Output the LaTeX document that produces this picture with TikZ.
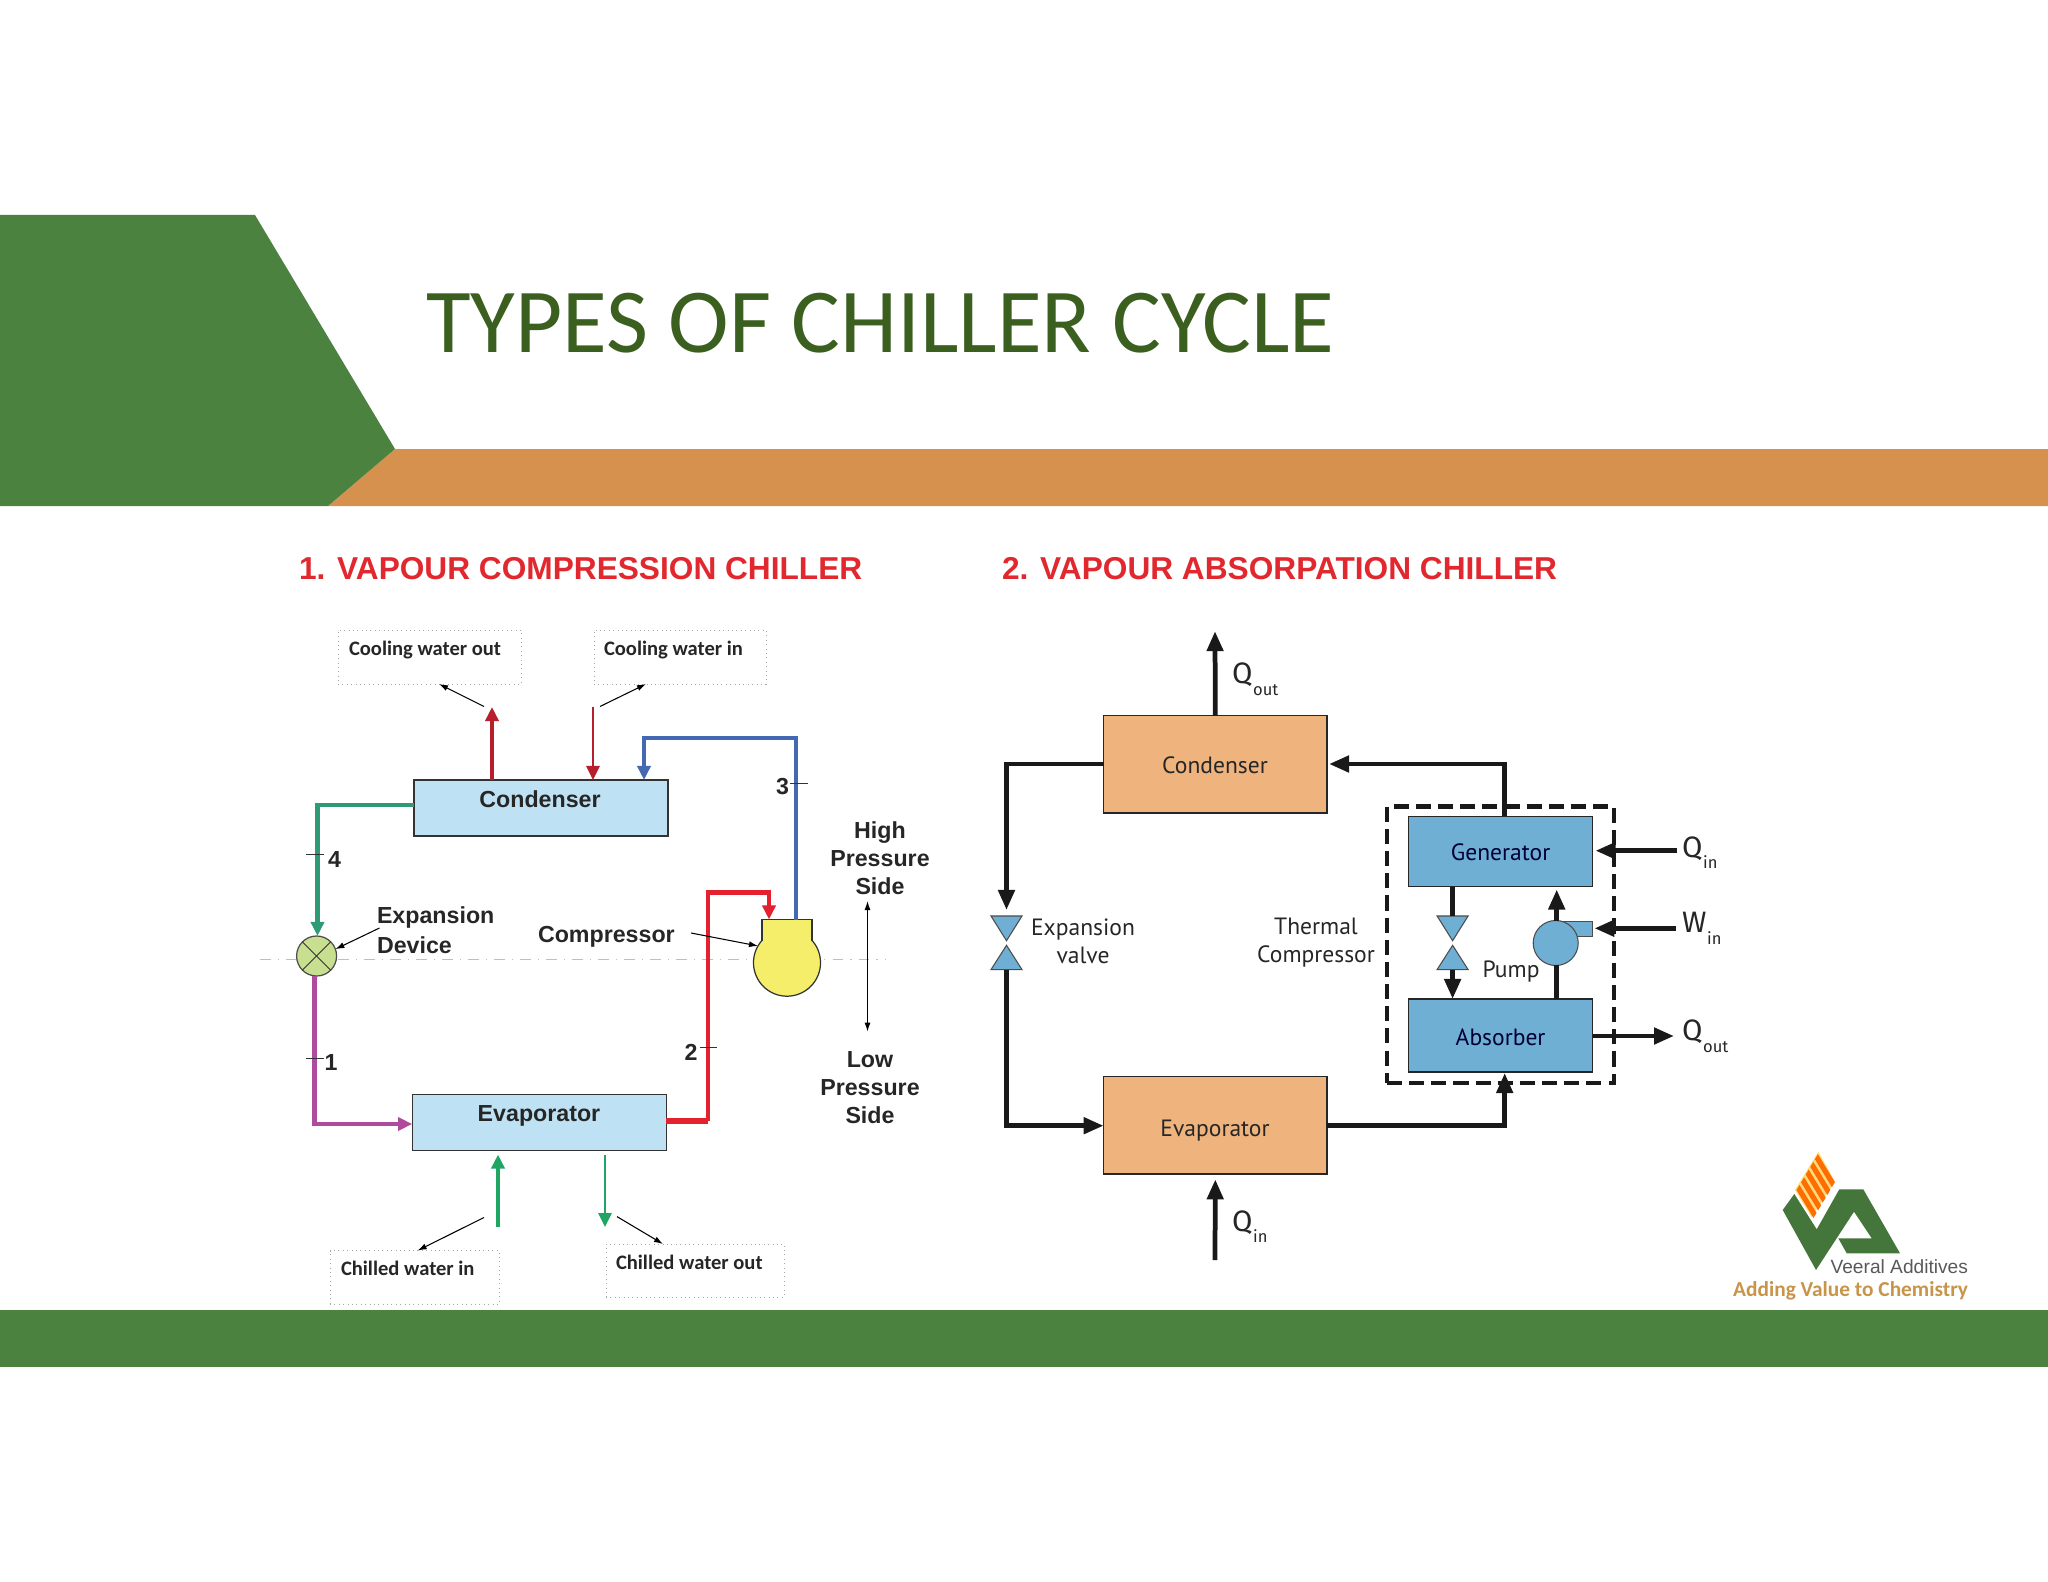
\documentclass[tikz,border=0pt]{standalone}
\usepackage{fontspec}
\setmainfont{Liberation Sans}
\newfontfamily\calfont{Carlito}
\newfontfamily\ptfont{PT Sans}
\newfontfamily\qfont{Fira Sans}
\usepackage{xcolor}
\usetikzlibrary{arrows.meta,positioning,calc}

\definecolor{slidegreen}{HTML}{4C8240}
\definecolor{slideorange}{HTML}{D6914F}
\definecolor{titlegreen}{HTML}{3A5F1E}
\definecolor{headred}{HTML}{E0282E}
\definecolor{paleblue}{HTML}{BEE2F4}
\definecolor{boxorange}{HTML}{EFB47E}
\definecolor{boxblue}{HTML}{6FAFD4}
\definecolor{pipeblue}{HTML}{4568B2}
\definecolor{pipeteal}{HTML}{2E9A78}
\definecolor{pipepurple}{HTML}{B04A9C}
\definecolor{pipered}{HTML}{E3212F}
\definecolor{waterred}{HTML}{B81F2D}
\definecolor{watergreen}{HTML}{1FA564}
\definecolor{devicegreen}{HTML}{C7DF8E}
\definecolor{compyellow}{HTML}{F4EE6A}
\definecolor{tagorange}{HTML}{C8944A}

\tikzset{
  plain/.style={inner sep=0pt, outer sep=0pt},
  boldtext/.style={plain, align=center, text=black!85, font=\fontsize{6.6}{7.9}\selectfont\bfseries},
  notetext/.style={plain, anchor=west, text=black!85, font=\fontsize{5.85}{7}\selectfont\calfont\bfseries},
  thintext/.style={plain, align=center, text=black!85, font=\fontsize{6.7}{8}\selectfont\ptfont},
  qtext/.style={plain, anchor=west, text=black!85, font=\fontsize{8.4}{10}\selectfont\qfont},
  heading/.style={plain, anchor=west, text=headred, font=\fontsize{9}{10.8}\selectfont\bfseries},
  notebox/.style={plain, draw=gray!70, densely dotted, line width=0.25pt, minimum width=#1},
  paleboxstyle/.style={plain, draw=black!80, line width=0.35pt, fill=paleblue, minimum width=2.54cm, minimum height=0.56cm},
  orangebox/.style={plain, draw=black!85, line width=0.4pt, fill=boxorange, minimum width=2.233cm, minimum height=0.973cm},
  bluebox/.style={plain, draw=black!85, line width=0.4pt, fill=boxblue, minimum width=1.837cm},
  thinarrow/.style={-{Latex[length=0.09cm,width=0.06cm]}, line width=0.3pt, black},
  pipe/.style={-{Triangle[length=0.14cm,width=0.13cm]}, line width=1.3pt},
  loopline/.style={-{Triangle[length=0.2cm,width=0.16cm]}, line width=1.35pt, black!90},
  valvepart/.style={draw=black!70, line width=0.3pt, fill=boxblue}
}
\newcommand{\qsub}[2]{#1\kern0.2pt\raisebox{-0.75ex}{\fontsize{4.7}{5}\selectfont #2}}

\begin{document}
\begin{tikzpicture}[x=0.01cm, y=-0.01cm]
  \useasboundingbox (0,0) rectangle (2048,1582);

  % Slide background
  \fill[slideorange] (395,449) -- (2048,449) -- (2048,506) -- (328,506) -- cycle;
  \fill[slidegreen] (0,215) -- (255,215) -- (395,449) -- (328,506) -- (0,506) -- cycle;
  \fill[slidegreen] (0,1310) rectangle (2048,1367);
  \node[plain, anchor=west, text=titlegreen, font=\fontsize{26}{32}\selectfont\calfont] (title) at (426,323) {TYPES OF CHILLER CYCLE};

  % Headings
  \node[heading] (headleft) at (299,569) {1. VAPOUR COMPRESSION CHILLER};
  \node[heading] (headright) at (1002,569) {2. VAPOUR ABSORPATION CHILLER};

  % Pressure divide
  \coordinate (divleft) at (260,959.5);
  \coordinate (divright) at (886,959.5);
  \draw[gray!50, dash dot, line width=0.25pt] (divleft) -- (divright);

  % Left boxes
  \node[paleboxstyle] (condleft) at (541,808) {};
  \node[boldtext] (condlefttext) at (540,799) {Condenser};
  \node[paleboxstyle] (evapleft) at (539.2,1122.5) {};
  \node[boldtext] (evaplefttext) at (539,1116) {Evaporator};

  % Note boxes
  \node[notebox=1.83cm, minimum height=0.54cm] (coolout) at (429.5,657) {};
  \node[notetext] (coolouttext) at (349,650) {Cooling water out};
  \node[notebox=1.72cm, minimum height=0.54cm] (coolin) at (680,657) {};
  \node[notetext] (coolintext) at (604,650) {Cooling water in};
  \node[notebox=1.69cm, minimum height=0.535cm] (chillin) at (414.5,1277.3) {};
  \node[notetext] (chillintext) at (341,1268) {Chilled water in};
  \node[notebox=1.78cm, minimum height=0.53cm] (chillout) at (695,1270.5) {};
  \node[notetext] (chillouttext) at (616,1262.5) {Chilled water out};

  % Expansion device
  \node[plain, circle, draw=black!70, line width=0.35pt, fill=devicegreen, minimum size=0.4cm] (expdev) at (316.6,956) {};
  \draw[black!80, line width=0.25pt] (expdev.north west) -- (expdev.south east);
  \draw[black!80, line width=0.25pt] (expdev.north east) -- (expdev.south west);
  \node[boldtext, align=left, anchor=west] (expdevtext) at (377,930) {Expansion\\[0.5pt]Device};

  % Compressor
  \node[plain, circle, draw=black!80, line width=0.35pt, fill=compyellow, minimum size=0.67cm] (comp) at (787,962.7) {};
  \node[plain, fill=compyellow, minimum width=0.5cm, minimum height=0.21cm] (compneck) at (787,930) {};
  \draw[black!80, line width=0.35pt] (compneck.south west) -- (compneck.north west) -- (compneck.north east) -- (compneck.south east);
  \node[boldtext, anchor=west] (comptext) at (538,936.5) {Compressor};

  % Pipes
  \coordinate (bluetop) at (644,738);
  \draw[pipe, pipeblue] (compneck.north -| 796,0) |- (bluetop) -- (bluetop |- condleft.north);
  \coordinate (tealcorner) at (317.5,805);
  \draw[pipe, pipeteal] (tealcorner -| condleft.west) -- (tealcorner) -- (tealcorner |- expdev.north);
  \coordinate (purplecorner) at (314.7,1124);
  \draw[pipe, pipepurple] (purplecorner |- expdev.south) -- (purplecorner) -- (purplecorner -| evapleft.west);
  \coordinate (redlow) at (708,1121);
  \coordinate (redtop) at (769,892.5);
  \draw[line width=1.9pt, pipered] (redlow -| evapleft.east) -- (redlow);
  \draw[pipe, pipered] (redlow) |- (redtop) -- (redtop |- compneck.north);

  % Water arrows
  \coordinate (waterup) at (492,707);
  \coordinate (waterdown) at (593,706.5);
  \coordinate (chillup) at (498,1227);
  \coordinate (chilldown) at (605,1227);
  \draw[pipe, waterred, line width=1.1pt] (waterup |- condleft.north) -- (waterup);
  \draw[pipe, waterred, line width=0.8pt] (waterdown) -- (waterdown |- condleft.north);
  \draw[pipe, watergreen] (chillup) -- ($(chillup |- evapleft.south)+(0,4)$);
  \draw[pipe, watergreen, line width=0.8pt] ($(chilldown |- evapleft.south)+(0,4)$) -- (chilldown);

  % Thin arrows
  \coordinate (noteA) at (484,706.5);
  \coordinate (noteB) at (600,706.5);
  \coordinate (noteC) at (484,1217.5);
  \coordinate (noteD) at (617,1216.6);
  \coordinate (noteE) at (379.5,928);
  \coordinate (noteF) at (691,933);
  \draw[thinarrow] (noteA) -- (coolout.south -| 439,0);
  \draw[thinarrow] (noteB) -- (coolin.south -| 646,0);
  \draw[thinarrow] (noteC) -- (chillin.north -| 417.6,0);
  \draw[thinarrow] (noteD) -- (chillout.north -| 663,0);
  \draw[thinarrow] (noteE) -- (expdev.20);
  \draw[thinarrow] (noteF) -- (comp.150);

  % Ticks and numbers
  \foreach \nm/\xa/\xb/\yt in {four/306/324/854, one/306/324/1058, two/700/717/1047.6, three/789.5/808/783} {
    \coordinate (\nm a) at (\xa,\yt);
    \coordinate (\nm b) at (\xb,\yt);
    \draw[black!80, line width=0.25pt] (\nm a) -- (\nm b);
  }
  \node[boldtext] (numfour) at (334.5,860) {4};
  \node[boldtext] (numone) at (331,1063) {1};
  \node[boldtext] (numtwo) at (691,1052) {2};
  \node[boldtext] (numthree) at (782.6,787) {3};

  % Pressure sides
  \node[boldtext] (hightext) at (880,858) {High\\Pressure\\Side};
  \node[boldtext] (lowtext) at (870,1087.5) {Low\\Pressure\\Side};
  \coordinate (sidetop) at (867.5,901);
  \coordinate (sidelow) at (867.5,1031.6);
  \draw[{Latex[length=0.09cm,width=0.06cm]}-{Latex[length=0.09cm,width=0.06cm]}, line width=0.3pt, black] (sidetop) -- (sidelow);

  % Right boxes
  \node[orangebox] (condright) at (1215.3,764.3) {};
  \node[thintext] (condrighttext) at (1215,765.3) {Condenser};
  \node[orangebox] (evapright) at (1215.3,1125.3) {};
  \node[thintext] (evaprighttext) at (1215,1130.5) {Evaporator};
  \node[plain, draw=black!90, dash pattern=on 4.3pt off 2pt, line width=1.35pt, minimum width=2.27cm, minimum height=2.764cm] (thermal) at (1500.5,944.8) {};
  \node[bluebox, minimum height=0.702cm] (gen) at (1500.6,851.4) {};
  \node[thintext, text=black!80!blue] (gentext) at (1500.6,852.5) {Generator};
  \node[bluebox, minimum height=0.73cm] (abs) at (1500.6,1035.5) {};
  \node[thintext, text=black!80!blue] (abstext) at (1500.6,1037.6) {Absorber};

  % Valves
  \foreach \nm/\xc in {outervalve/1006.5, innervalve/1452.6} {
    \coordinate (\nm top) at (\xc,916);
    \coordinate (\nm low) at (\xc,969.6);
    \draw[valvepart] (\xc-15.5,916) -- (\xc+15.5,916) -- (\xc,940.7) -- cycle;
    \draw[valvepart] (\xc-15.5,969.6) -- (\xc+15.5,969.6) -- (\xc,945.3) -- cycle;
  }

  % Pump
  \node[plain, draw=black!70, line width=0.3pt, fill=boxblue, minimum width=0.305cm, minimum height=0.15cm] (pumptab) at (1577.2,928.7) {};
  \node[plain, circle, draw=black!70, line width=0.3pt, fill=boxblue, minimum size=0.45cm] (pump) at (1555.7,943) {};
  \node[thintext] (pumptext) at (1511,972) {Pump};

  % Main loop
  \coordinate (leftline) at (1006.5,764);
  \coordinate (valvein) at (1006.5,910);
  \coordinate (leftlow) at (1006.5,1125.7);
  \coordinate (genup) at (1504.7,764);
  \coordinate (evapline) at (1504.7,1125.7);
  \draw[loopline] (leftline -| condright.west) -- (leftline) -- (valvein);
  \draw[loopline] (outervalvelow) -- (leftlow) -- (leftlow -| evapright.west);
  \draw[loopline] (genup |- gen.north) -- (genup) -- ($(genup -| condright.east)+(2,0)$);
  \draw[loopline] (evapline -| evapright.east) -- (evapline) -- ($(evapline |- abs.south)+(0,1)$);

  % Thermal compressor lines
  \draw[loopline, -] (innervalvetop |- gen.south) -- (innervalvetop);
  \draw[loopline] (innervalvelow) -- (innervalvelow |- abs.north);
  \coordinate (pumpin) at (1556.7,965);
  \coordinate (pumpout) at (1556.7,921.4);
  \draw[loopline, -] (pumpin |- abs.north) -- (pumpin);
  \draw[loopline] (pumpout) -- ($(pumpout |- gen.south)+(0,3)$);
  \node[thintext] (thermaltext) at (1316,943) {Thermal\\Compressor};
  \node[thintext] (valvetext) at (1083,941) {Expansion\\valve};

  % Heat and work
  \coordinate (qtop) at (1215,631.2);
  \coordinate (qbottom) at (1215,1260);
  \coordinate (qgen) at (1676.6,850.7);
  \coordinate (wpump) at (1676,928.3);
  \coordinate (qabs) at (1674,1036);
  \draw[loopline] (condright.north) -- (qtop);
  \draw[loopline] (qbottom) -- ($(evapright.south)+(0,5.4)$);
  \draw[loopline] (qgen) -- ($(qgen -| gen.east)+(3,0)$);
  \draw[loopline] (wpump) -- ($(wpump -| pumptab.east)+(2,0)$);
  \draw[loopline] (qabs -| abs.east) -- (qabs);
  \node[qtext] (qtoptext) at (1232,679) {\qsub{Q}{out}};
  \node[qtext] (qbottomtext) at (1232,1226.7) {\qsub{Q}{in}};
  \node[qtext] (qgentext) at (1682,852.5) {\qsub{Q}{in}};
  \node[qtext] (wpumptext) at (1682,928.3) {\qsub{W}{in}};
  \node[qtext] (qabstext) at (1682,1036) {\qsub{Q}{out}};

  % Logo
  \fill[slidegreen!90!black] (1782.7,1210) -- (1794.3,1194) -- (1816.7,1229.3) -- (1839.3,1189.3) -- (1863.3,1189.3) -- (1900,1253.3) -- (1846.7,1253.3) -- (1838.3,1238.3) -- (1871.7,1238.3) -- (1854,1211.7) -- (1816,1270) -- cycle;
  \fill[yellow!50!orange!50] (1795,1190) -- (1818.3,1151.7) -- (1835,1181.7) -- (1811.7,1217.3) -- cycle;
  \foreach \i in {0,1,2,3,4} {
    \fill[orange!85!red] ($(1796.5,1190)+(\i*4.6,-\i*7.7)$) -- ++(3,-5) -- ++(17,28) -- ++(-3,5) -- cycle;
  }
  \node[plain, anchor=east, text=black!65, font=\fontsize{5.45}{6.5}\selectfont] (logoname) at (1968,1267) {Veeral Additives};
  \node[plain, anchor=east, text=tagorange, font=\fontsize{6.07}{7.2}\selectfont\calfont\bfseries] (logotag) at (1968,1290.7) {Adding Value to Chemistry};
\end{tikzpicture}
\end{document}
